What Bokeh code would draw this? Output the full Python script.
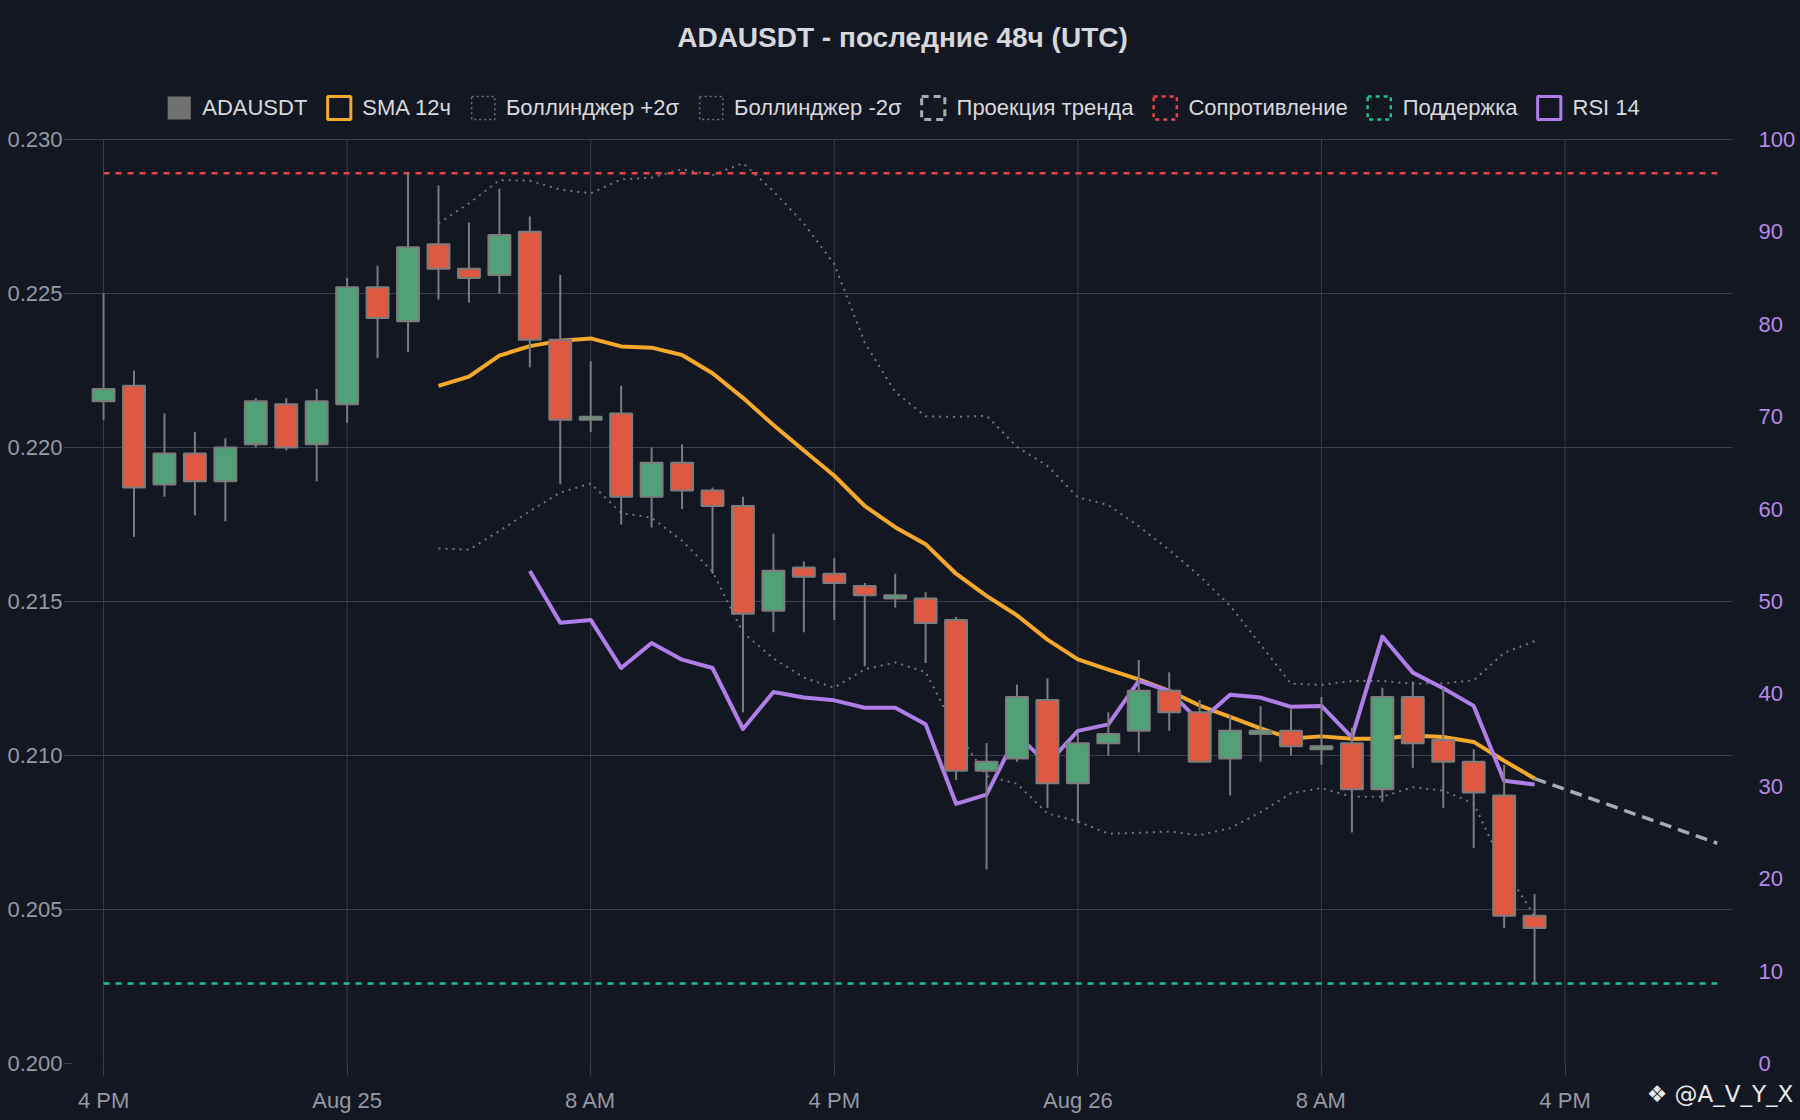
from bokeh.plotting import figure
from bokeh.models import (Range1d, LinearAxis, FixedTicker, Legend, LegendItem,
                          ColumnDataSource, NumeralTickFormatter)
from bokeh.embed import file_html
from bokeh.resources import INLINE

# ---------------- data ----------------
# hours since Aug 24, 16:00 UTC (hourly candles)
hours = list(range(48))
opens = [0.2215, 0.2220, 0.2188, 0.2198, 0.2189, 0.2201, 0.2214, 0.2201, 0.2214, 0.2252,
         0.2241, 0.2266, 0.2258, 0.2256, 0.2270, 0.2235, 0.2209, 0.2211, 0.2184, 0.2195,
         0.2186, 0.2181, 0.2147, 0.2161, 0.2159, 0.2155, 0.2151, 0.2151, 0.2144, 0.2095,
         0.2099, 0.2118, 0.2091, 0.2104, 0.2108, 0.2121, 0.2114, 0.2099, 0.2107, 0.2108,
         0.2102, 0.2104, 0.2089, 0.2119, 0.2105, 0.2098, 0.2087, 0.2048]
highs = [0.2250, 0.2225, 0.2211, 0.2205, 0.2203, 0.2216, 0.2216, 0.2219, 0.2255, 0.2259,
         0.2289, 0.2285, 0.2273, 0.2284, 0.2275, 0.2256, 0.2228, 0.2220, 0.2200, 0.2201,
         0.2187, 0.2184, 0.2172, 0.2163, 0.2164, 0.2156, 0.2159, 0.2153, 0.2145, 0.2104,
         0.2123, 0.2125, 0.2107, 0.2114, 0.2131, 0.2127, 0.2118, 0.2113, 0.2116, 0.2115,
         0.2119, 0.2109, 0.2122, 0.2124, 0.2122, 0.2102, 0.2097, 0.2055]
lows = [0.2209, 0.2171, 0.2184, 0.2178, 0.2176, 0.2200, 0.2199, 0.2189, 0.2208, 0.2229,
        0.2231, 0.2248, 0.2247, 0.2250, 0.2226, 0.2188, 0.2205, 0.2175, 0.2174, 0.2180,
        0.2159, 0.2114, 0.2140, 0.2140, 0.2144, 0.2129, 0.2148, 0.2130, 0.2092, 0.2063,
        0.2098, 0.2083, 0.2078, 0.2100, 0.2101, 0.2108, 0.2098, 0.2087, 0.2098, 0.2100,
        0.2097, 0.2075, 0.2085, 0.2096, 0.2083, 0.2070, 0.2044, 0.2026]
closes = [0.2219, 0.2187, 0.2198, 0.2189, 0.2200, 0.2215, 0.2200, 0.2215, 0.2252, 0.2242,
          0.2265, 0.2258, 0.2255, 0.2269, 0.2235, 0.2209, 0.2210, 0.2184, 0.2195, 0.2186,
          0.2181, 0.2146, 0.2160, 0.2158, 0.2156, 0.2152, 0.2152, 0.2143, 0.2095, 0.2098,
          0.2119, 0.2091, 0.2104, 0.2107, 0.2121, 0.2114, 0.2098, 0.2108, 0.2108, 0.2103,
          0.2103, 0.2089, 0.2119, 0.2104, 0.2098, 0.2088, 0.2048, 0.2044]

sma_hours = list(range(11, 48))
sma12 = [0.22200, 0.22230, 0.22298, 0.22329, 0.22346, 0.22354, 0.22328, 0.22324, 0.22300,
         0.22241, 0.22161, 0.22073, 0.21990, 0.21908, 0.21810, 0.21741, 0.21686, 0.21590,
         0.21518, 0.21455, 0.21376, 0.21312, 0.21279, 0.21247, 0.21210, 0.21162, 0.21125,
         0.21088, 0.21055, 0.21062, 0.21054, 0.21054, 0.21065, 0.21060, 0.21044, 0.20983,
         0.20925]
boll_upper = [0.22728, 0.22792, 0.22868, 0.22866, 0.22837, 0.22825, 0.22870, 0.22876, 0.22903,
              0.22884, 0.22923, 0.22832, 0.22727, 0.22595, 0.22340, 0.22180, 0.22101, 0.22099,
              0.22103, 0.22002, 0.21940, 0.21838, 0.21813, 0.21744, 0.21667, 0.21582, 0.21486,
              0.21360, 0.21233, 0.21229, 0.21242, 0.21242, 0.21233, 0.21234, 0.21244, 0.21333,
              0.21371]
boll_lower = [0.21672, 0.21668, 0.21729, 0.21793, 0.21854, 0.21883, 0.21787, 0.21772, 0.21697,
              0.21597, 0.21399, 0.21315, 0.21253, 0.21220, 0.21280, 0.21302, 0.21271, 0.21081,
              0.20934, 0.20908, 0.20812, 0.20786, 0.20746, 0.20749, 0.20753, 0.20741, 0.20764,
              0.20816, 0.20877, 0.20894, 0.20866, 0.20866, 0.20897, 0.20886, 0.20844, 0.20634,
              0.20479]

rsi_hours = list(range(14, 48))
rsi14 = [53.3, 47.7, 48.0, 42.8, 45.5, 43.7, 42.8, 36.2, 40.2, 39.6, 39.3, 38.5, 38.5, 36.7,
         28.1, 29.1, 35.6, 32.4, 36.0, 36.7, 41.4, 40.3, 37.0, 39.9, 39.6, 38.6, 38.7, 35.3,
         46.2, 42.3, 40.6, 38.7, 30.6, 30.2]

proj_hours = [47, 53]
proj_values = [0.20925, 0.20715]
level_hours = [0, 53]
resistance = 0.2289
support = 0.2026

tick_hours = [0, 8, 16, 24, 32, 40, 48]
tick_labels = ["4 PM", "Aug 25", "8 AM", "4 PM", "Aug 26", "8 AM", "4 PM"]
price_ticks = [0.200, 0.205, 0.210, 0.215, 0.220, 0.225, 0.230]
rsi_ticks = [0, 10, 20, 30, 40, 50, 60, 70, 80, 90, 100]
watermark = "❖ @A_V_Y_X"

# ---------------- style / layout ----------------
BG = "#131722"
GRID = "#393e4a"
GREEN = "#52a078"
RED = "#de5842"
WICK = "#7c7c7c"
ORANGE = "#f5a82a"
BOLL = "#6f7583"
PROJ = "#a7abb2"
RES = "#e0474b"
SUP = "#20c08e"
PURPLE = "#b07ee8"
FONT = "Liberation Sans"

# frame reaches above 0.230 so the legend row sits inside it
Y_TOP = 0.232432
RSI_TOP = 108.108
WM_X = 53.09        # horizontal centre of the watermark (in hour units)

p = figure(width=1800, height=1120, output_backend="svg", toolbar_location=None,
           x_range=Range1d(-1.02, 53.5), y_range=Range1d(0.200, Y_TOP),
           background_fill_color=BG, border_fill_color=BG,
           min_border_left=72, min_border_right=68, min_border_top=64, min_border_bottom=57)
p.outline_line_color = None

p.title.text = "ADAUSDT - последние 48ч (UTC)"
p.title.align = "center"
p.title.text_font = FONT
p.title.text_font_size = "28px"
p.title.text_font_style = "bold"
p.title.text_color = "#d6d8dd"
p.title.standoff = 24

# axes
xa = p.xaxis[0]
xa.ticker = FixedTicker(ticks=tick_hours)
xa.major_label_overrides = {h: lab for h, lab in zip(tick_hours, tick_labels)}
ya = p.yaxis[0]
ya.ticker = FixedTicker(ticks=price_ticks)
ya.formatter = NumeralTickFormatter(format="0.000")
for ax in (xa, ya):
    ax.axis_line_color = None
    ax.major_tick_line_color = GRID
    ax.minor_tick_line_color = None
    ax.major_tick_in = 0
    ax.major_label_text_font = FONT
    ax.major_label_text_font_size = "22px"
    ax.major_label_text_color = "#9599a2"
xa.major_tick_out = 12
xa.major_label_standoff = 12
ya.major_tick_out = 8
ya.major_label_standoff = 2

p.extra_y_ranges = {"rsi": Range1d(0, RSI_TOP)}
ra = LinearAxis(y_range_name="rsi", ticker=FixedTicker(ticks=rsi_ticks))
ra.axis_line_color = None
ra.major_tick_line_color = None
ra.minor_tick_line_color = None
ra.major_tick_out = 0
ra.major_tick_in = 0
ra.axis_label_standoff = 0
ra.major_label_standoff = 26
ra.major_label_text_font = FONT
ra.major_label_text_font_size = "22px"
ra.major_label_text_color = "#b68ae8"
p.add_layout(ra, "right")

# watermark drawn as a single tick label on the same row as the time labels
wa = LinearAxis(ticker=FixedTicker(ticks=[WM_X]), major_label_overrides={WM_X: watermark})
wa.axis_line_color = None
wa.major_tick_line_color = None
wa.minor_tick_line_color = None
wa.major_tick_out = 0
wa.major_tick_in = 0
wa.axis_label_standoff = 0
wa.major_label_standoff = -35
wa.major_label_text_font = "DejaVu Sans"
wa.major_label_text_font_size = "23px"
wa.major_label_text_color = "#e8e8e8"
p.add_layout(wa, "below")

p.xgrid.visible = False
p.ygrid.ticker = FixedTicker(ticks=price_ticks)
p.ygrid.grid_line_color = GRID
p.ygrid.grid_line_width = 1
# vertical grid lines only over the price area (0.200 - 0.230)
p.segment(x0=tick_hours, y0=[price_ticks[0]] * len(tick_hours),
          x1=tick_hours, y1=[price_ticks[-1]] * len(tick_hours),
          line_color=GRID, line_width=1)

# indicator lines
p.line(sma_hours, boll_upper, line_color=BOLL, line_width=2, line_dash="2 5")
p.line(sma_hours, boll_lower, line_color=BOLL, line_width=2, line_dash="2 5")
p.line(sma_hours, sma12, line_color=ORANGE, line_width=4, line_join="round")
p.line(rsi_hours, rsi14, y_range_name="rsi", line_color=PURPLE, line_width=4,
       line_join="round")
p.line(level_hours, [resistance, resistance], line_color=RES, line_width=2.5, line_dash="6 6")
p.line(level_hours, [support, support], line_color=SUP, line_width=2.5, line_dash="6 6")
p.line(proj_hours, proj_values, line_color=PROJ, line_width=3.5, line_dash="12 7")

# candles
src = ColumnDataSource(dict(
    x=hours,
    high=highs,
    low=lows,
    top=[max(o, c) for o, c in zip(opens, closes)],
    bottom=[min(o, c) for o, c in zip(opens, closes)],
    color=[GREEN if c >= o else RED for o, c in zip(opens, closes)],
))
p.segment(x0="x", y0="high", x1="x", y1="low", source=src, line_color=WICK, line_width=2)
p.vbar(x="x", width=0.72, top="top", bottom="bottom", source=src, fill_color="color",
       line_color=WICK, line_width=2)

# legend with square swatches (zero-size rects: only their legend icon is visible)
def swatch(**kw):
    return p.rect(x=[hours[0]], y=[closes[0]], width=0, height=0, **kw)

lg = [
    ("ADAUSDT", swatch(fill_color="#707070", line_alpha=0)),
    ("SMA 12ч", swatch(fill_alpha=0, line_color=ORANGE, line_width=3)),
    ("Боллинджер +2σ", swatch(fill_alpha=0, line_color=BOLL, line_width=1.5, line_dash="2 3")),
    ("Боллинджер -2σ", swatch(fill_alpha=0, line_color=BOLL, line_width=1.5, line_dash="2 3")),
    ("Проекция тренда", swatch(fill_alpha=0, line_color=PROJ, line_width=3, line_dash="7 5")),
    ("Сопротивление", swatch(fill_alpha=0, line_color=RES, line_width=2.5, line_dash="4 4")),
    ("Поддержка", swatch(fill_alpha=0, line_color=SUP, line_width=2.5, line_dash="4 4")),
    ("RSI 14", swatch(fill_alpha=0, line_color=PURPLE, line_width=3)),
]
legend = Legend(items=[LegendItem(label=t, renderers=[r]) for t, r in lg],
                orientation="horizontal", location="top_center",
                glyph_width=29, glyph_height=29, label_standoff=9, spacing=17,
                padding=0, margin=29,
                label_text_font=FONT, label_text_font_size="22px",
                label_text_color="#d9dadd",
                background_fill_alpha=0, border_line_alpha=0)
p.add_layout(legend, "center")

html = file_html(p, INLINE)
html = html.replace("</head>",
                    "<style>html, body { background: %s; }</style></head>" % BG, 1)
open("out.html", "w").write(html)
